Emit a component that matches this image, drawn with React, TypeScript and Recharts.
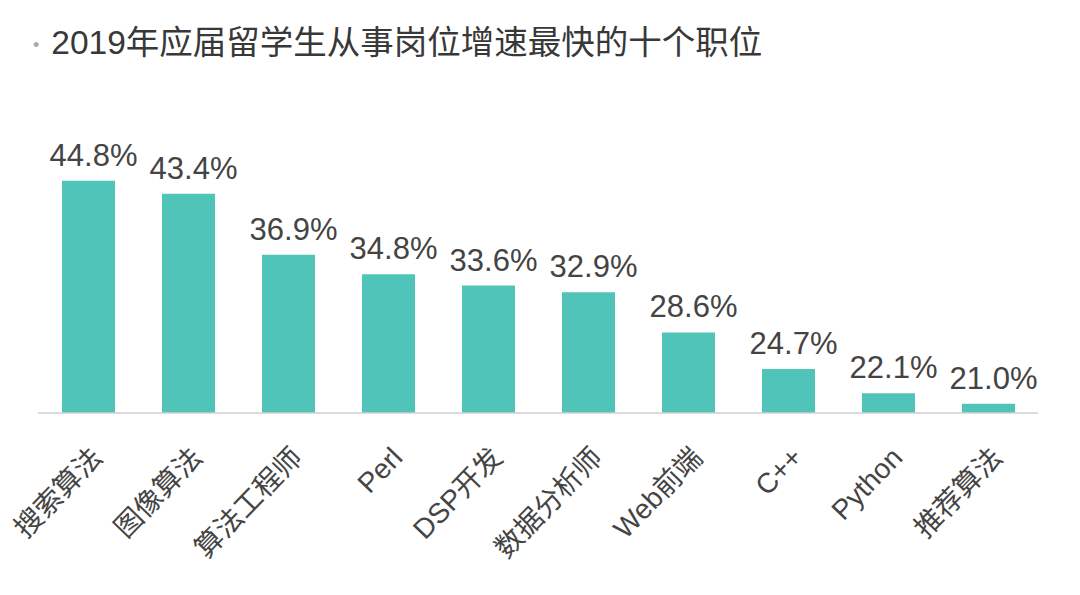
import React from "react";
import { BarChart, Bar, XAxis, YAxis, LabelList } from "recharts";

const CATEGORIES = ["搜索算法", "图像算法", "算法工程师", "Perl", "DSP开发", "数据分析师", "Web前端", "C++", "Python", "推荐算法"];
const GROWTH = [44.8, 43.4, 36.9, 34.8, 33.6, 32.9, 28.6, 24.7, 22.1, 21.0];
const TITLE = "2019年应届留学生从事岗位增速最快的十个职位";

const FONT = "'Liberation Sans', 'Noto Sans CJK SC', sans-serif";
const BAR_COLOR = "#50c4b9";
const TEXT_COLOR = "#444";

const data = CATEGORIES.map((name, i) => ({ name, value: GROWTH[i] }));

function RotatedTick(props: any) {
  const { x, y, payload } = props;
  return (
    <g transform={`translate(${x + 16},${y + 38})`}>
      <text textAnchor="end" transform="rotate(-46)" fontSize={28} fill={TEXT_COLOR} fontFamily={FONT}>
        {payload.value}
      </text>
    </g>
  );
}

function ValueLabel(props: any) {
  const { x, y, width, value } = props;
  return (
    <text x={x + width / 2 + 5} y={y - 15} textAnchor="middle" fontSize={31} fill={TEXT_COLOR} fontFamily={FONT}>
      {`${Number(value).toFixed(1)}%`}
    </text>
  );
}

export default function App() {
  return (
    <div style={{ position: "absolute", left: 0, top: 0, width: 1080, height: 595, background: "#fff" }}>
      <div
        style={{
          position: "absolute",
          left: 33,
          top: 23,
          fontFamily: FONT,
          fontSize: 33.5,
          color: "#383838",
          whiteSpace: "nowrap",
          lineHeight: "40px",
        }}
      >
        <span style={{ color: "#aaa", fontSize: 18, marginRight: 12, verticalAlign: "middle" }}>•</span>
        {TITLE}
      </div>
      <BarChart width={1080} height={595} data={data} margin={{ top: 132, right: 42, bottom: 0, left: 38 }}>
        <YAxis hide domain={[20, 50]} />
        <XAxis
          dataKey="name"
          height={182}
          interval={0}
          tickLine={false}
          axisLine={{ stroke: "#d0d0d0", strokeWidth: 1.5 }}
          tick={<RotatedTick />}
        />
        <Bar dataKey="value" fill={BAR_COLOR} barSize={53} isAnimationActive={false}>
          <LabelList dataKey="value" content={<ValueLabel />} />
        </Bar>
      </BarChart>
    </div>
  );
}
